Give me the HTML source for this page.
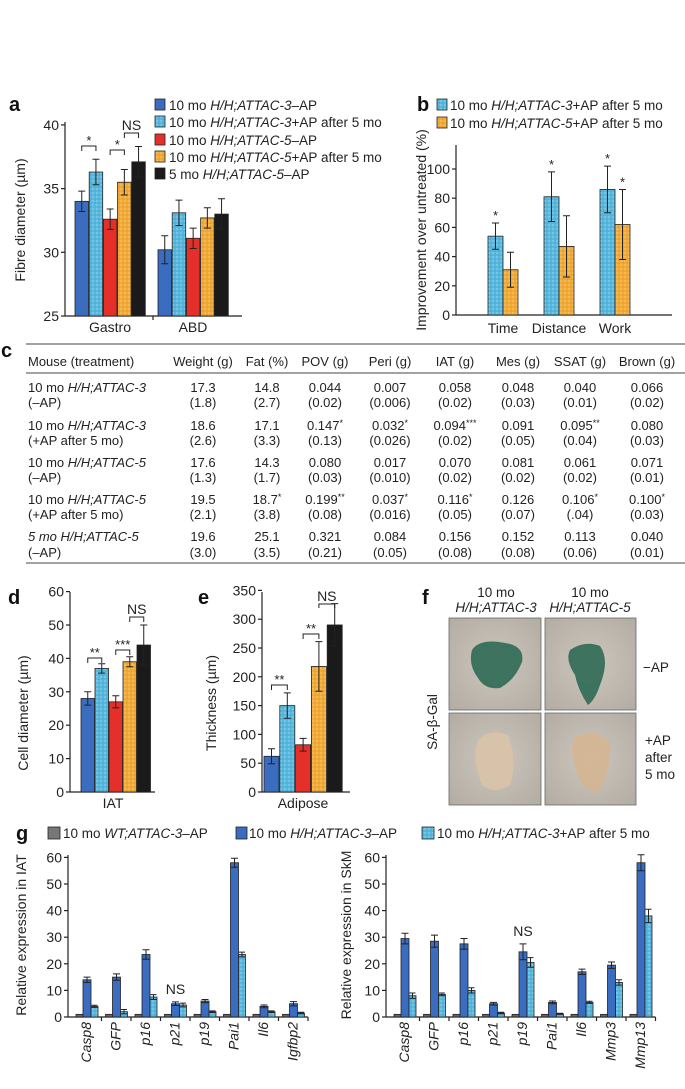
<!DOCTYPE html>
<html><head><meta charset="utf-8"><style>
html,body{margin:0;padding:0;background:#fff;}
svg{display:block;font-family:"Liberation Sans",sans-serif;}
.t{font-size:13px;fill:#222;}
.tk{font-size:14px;fill:#222;}
.lb{font-size:13.5px;fill:#222;}
.pl{font-size:20px;font-weight:bold;fill:#111;}
</style></head><body>
<svg id="fig" width="685" height="1089" viewBox="0 0 685 1089">
<defs>
<pattern id="pLb" width="4" height="4" patternUnits="userSpaceOnUse"><rect width="4" height="4" fill="#58b7dc"/><circle cx="1" cy="1" r="0.7" fill="#9fd9ee"/><circle cx="3" cy="3" r="0.6" fill="#3b9fc9"/></pattern>
<pattern id="pOr" width="4" height="4" patternUnits="userSpaceOnUse"><rect width="4" height="4" fill="#f1aa3a"/><circle cx="1" cy="1" r="0.7" fill="#f9cf72"/><circle cx="3" cy="3" r="0.6" fill="#d98e20"/></pattern>
<radialGradient id="bgImg" cx="50%" cy="50%" r="70%"><stop offset="0" stop-color="#ccc6bd"/><stop offset="1" stop-color="#b3aca3"/></radialGradient>
</defs>

<!-- panel labels -->
<text class="pl" x="9" y="111">a</text>
<text class="pl" x="417" y="111">b</text>
<text class="pl" x="1" y="357">c</text>
<text class="pl" x="8" y="604">d</text>
<text class="pl" x="198" y="604">e</text>
<text class="pl" x="422" y="604">f</text>
<text class="pl" x="16" y="840">g</text>

<!-- legend a -->
<g>
<rect x="155" y="99" width="10" height="11" fill="#3a6cc0" stroke="#222" stroke-width="0.8"/>
<text class="lb" x="169" y="110">10 mo <tspan font-style="italic">H/H;ATTAC-3</tspan>–AP</text>
<rect x="155" y="116" width="10" height="11" fill="url(#pLb)" stroke="#222" stroke-width="0.8"/>
<text class="lb" x="169" y="127">10 mo <tspan font-style="italic">H/H;ATTAC-3</tspan>+AP after 5 mo</text>
<rect x="155" y="134" width="10" height="11" fill="#e5302a" stroke="#222" stroke-width="0.8"/>
<text class="lb" x="169" y="145">10 mo <tspan font-style="italic">H/H;ATTAC-5</tspan>–AP</text>
<rect x="155" y="151" width="10" height="11" fill="url(#pOr)" stroke="#222" stroke-width="0.8"/>
<text class="lb" x="169" y="162">10 mo <tspan font-style="italic">H/H;ATTAC-5</tspan>+AP after 5 mo</text>
<rect x="155" y="168" width="10" height="11" fill="#1a1a1a" stroke="#222" stroke-width="0.8"/>
<text class="lb" x="169" y="179">5 mo <tspan font-style="italic">H/H;ATTAC-5</tspan>–AP</text>
</g>
<!-- legend b -->
<g>
<rect x="437" y="99" width="10" height="11" fill="url(#pLb)" stroke="#222" stroke-width="0.8"/>
<text class="lb" x="450" y="110">10 mo <tspan font-style="italic">H/H;ATTAC-3</tspan>+AP after 5 mo</text>
<rect x="437" y="117" width="10" height="11" fill="url(#pOr)" stroke="#222" stroke-width="0.8"/>
<text class="lb" x="450" y="128">10 mo <tspan font-style="italic">H/H;ATTAC-5</tspan>+AP after 5 mo</text>
</g>
<!-- legend g -->
<g>
<rect x="48" y="827" width="12" height="12" fill="#777" stroke="#222" stroke-width="0.8"/>
<text class="lb" x="63" y="838">10 mo <tspan font-style="italic">WT;ATTAC-3</tspan>–AP</text>
<rect x="236" y="827" width="11" height="12" fill="#3a6cc0" stroke="#222" stroke-width="0.8"/>
<text class="lb" x="249" y="838">10 mo <tspan font-style="italic">H/H;ATTAC-3</tspan>–AP</text>
<rect x="422" y="827" width="12" height="12" fill="url(#pLb)" stroke="#222" stroke-width="0.8"/>
<text class="lb" x="437" y="838">10 mo <tspan font-style="italic">H/H;ATTAC-3</tspan>+AP after 5 mo</text>
</g>

<!-- axis titles -->
<text class="tk" transform="translate(25,220) rotate(-90)" text-anchor="middle">Fibre diameter (µm)</text>
<text class="tk" transform="translate(426,230) rotate(-90)" text-anchor="middle">Improvement over untreated (%)</text>
<text class="tk" transform="translate(28,713) rotate(-90)" text-anchor="middle">Cell diameter (µm)</text>
<text class="tk" transform="translate(216,703) rotate(-90)" text-anchor="middle">Thickness (µm)</text>
<text class="tk" transform="translate(26,935) rotate(-90)" text-anchor="middle">Relative expression in IAT</text>
<text class="tk" transform="translate(351,935) rotate(-90)" text-anchor="middle">Relative expression in SkM</text>

<!-- table c -->
<g id="tbl">
<line x1="26" y1="344" x2="685" y2="344" stroke="#444" stroke-width="1"/>
<line x1="26" y1="373" x2="685" y2="373" stroke="#444" stroke-width="1"/>
<line x1="26" y1="563" x2="685" y2="563" stroke="#444" stroke-width="1"/>
</g>

<!-- panel f images -->
<g>
<text class="lb" x="496" y="597" text-anchor="middle">10 mo</text>
<text class="lb" x="590" y="597" text-anchor="middle">10 mo</text>
<text class="lb" x="496" y="612" text-anchor="middle" font-style="italic">H/H;ATTAC-3</text>
<text class="lb" x="590" y="612" text-anchor="middle" font-style="italic">H/H;ATTAC-5</text>
<rect x="449" y="618" width="92" height="92" fill="url(#bgImg)" stroke="#666" stroke-width="0.8"/>
<rect x="545" y="618" width="91" height="92" fill="url(#bgImg)" stroke="#666" stroke-width="0.8"/>
<rect x="449" y="713" width="92" height="92" fill="url(#bgImg)" stroke="#666" stroke-width="0.8"/>
<rect x="545" y="713" width="91" height="92" fill="url(#bgImg)" stroke="#666" stroke-width="0.8"/>
<path d="M472,650 Q480,638 505,643 Q525,646 522,662 Q515,680 500,688 Q485,690 478,678 Q468,665 472,650Z" fill="#2d6a55" opacity="0.9"/>
<path d="M570,650 Q585,640 600,646 Q610,660 600,685 Q595,700 588,705 Q578,690 575,675 Q565,660 570,650Z" fill="#2d6a55" opacity="0.9"/>
<path d="M478,740 Q490,728 508,735 Q518,760 510,785 Q495,795 482,785 Q472,760 478,740Z" fill="#d9c3a8" opacity="0.9"/>
<path d="M573,738 Q590,728 610,740 Q612,765 600,790 Q588,795 580,780 Q570,760 573,738Z" fill="#d4b592" opacity="0.9"/>
<text class="lb" transform="translate(437,722) rotate(-90)" text-anchor="middle">SA-β-Gal</text>
<text class="lb" x="643" y="672">−AP</text>
<text class="lb" x="645" y="745">+AP</text>
<text class="lb" x="645" y="762">after</text>
<text class="lb" x="645" y="779">5 mo</text>
</g>
<g id="charts"></g>
</svg>
<script>
// ---- panel a data ----
const aCats=['Gastro','ABD'];
const aS1=[34.0,30.2], aS2=[36.3,33.1], aS3=[32.6,31.1], aS4=[35.5,32.7], aS5=[37.1,33.0];
const aE1=[0.8,1.1], aE2=[1.0,1.0], aE3=[0.8,0.8], aE4=[1.0,0.8], aE5=[1.2,1.2];
const aTicks=[25,30,35,40];
// ---- panel b data ----
const bCats=['Time','Distance','Work'];
const bS1=[54,81,86], bS2=[31,47,62];
const bE1=[9,17,16], bE2=[12,21,24];
const bTicks=[0,20,40,60,80,100];
// ---- panel c table ----
const cHeaders=['Weight (g)','Fat (%)','POV (g)','Peri (g)','IAT (g)','Mes (g)','SSAT (g)','Brown (g)'];
const cRows=[
 ['17.3','14.8','0.044','0.007','0.058','0.048','0.040','0.066'],
 ['(1.8)','(2.7)','(0.02)','(0.006)','(0.02)','(0.03)','(0.01)','(0.02)'],
 ['18.6','17.1','0.147*','0.032*','0.094***','0.091','0.095**','0.080'],
 ['(2.6)','(3.3)','(0.13)','(0.026)','(0.02)','(0.05)','(0.04)','(0.03)'],
 ['17.6','14.3','0.080','0.017','0.070','0.081','0.061','0.071'],
 ['(1.3)','(1.7)','(0.03)','(0.010)','(0.02)','(0.02)','(0.02)','(0.01)'],
 ['19.5','18.7*','0.199**','0.037*','0.116*','0.126','0.106*','0.100*'],
 ['(2.1)','(3.8)','(0.08)','(0.016)','(0.05)','(0.07)','(.04)','(0.03)'],
 ['19.6','25.1','0.321','0.084','0.156','0.152','0.113','0.040'],
 ['(3.0)','(3.5)','(0.21)','(0.05)','(0.08)','(0.08)','(0.06)','(0.01)']];
// ---- panel d / e data ----
const dVals=[28,37,27,39,44], dErr=[2,1.4,1.8,1.5,6], dTicks=[0,10,20,30,40,50,60];
const eVals=[62,150,82,218,290], eErr=[13,22,11,43,37], eTicks=[0,50,100,150,200,250,300,350];
// ---- panel g data ----
const gCatsL=['Casp8','GFP','p16','p21','p19','Pai1','Il6','Igfbp2'];
const gGrayL=[1,1,1,1,1,1,1,1];
const gBlueL=[14,15,23.5,5,6,58,4,5], gBlueErrL=[1,1.2,1.8,0.7,0.6,1.7,0.5,0.8];
const gLbL=[4,2,7.5,4.5,2,23.5,2,1.5], gLbErrL=[0.4,0.8,0.9,0.7,0.3,0.9,0.3,0.3];
const gCatsR=['Casp8','GFP','p16','p21','p19','Pai1','Il6','Mmp3','Mmp13'];
const gGrayR=[1,1,1,1,1,1,1,1,1];
const gBlueR=[29.5,28.5,27.5,5,24.5,5.5,17,19.5,58], gBlueErrR=[2,2.3,2,0.5,3,0.5,1,1.2,3];
const gLbR=[8,8.5,10,1.5,20.5,1.2,5.5,13,38], gLbErrR=[1,0.5,1,0.3,1.8,0.2,0.4,1,2.5];
const gTicks=[0,10,20,30,40,50,60];

const NS='http://www.w3.org/2000/svg';
const root=document.getElementById('charts');
function mk(tag,attrs,parent){const e=document.createElementNS(NS,tag);for(const k in attrs)e.setAttribute(k,attrs[k]);(parent||root).appendChild(e);return e;}
function bar(x,w,y0,y1,fill,name){
  const r=mk('rect',{x:x,y:Math.min(y0,y1),width:w,height:Math.abs(y0-y1),fill:fill,stroke:'#222','stroke-width':0.8});
  
  
  return r;
}
function err(cx,yt,yb,cap){
  const p=mk('path',{d:`M${cx},${yt}V${yb}M${cx-cap},${yt}H${cx+cap}M${cx-cap},${yb}H${cx+cap}`,stroke:'#222','stroke-width':1,fill:'none'});
  
  
}
function txt(x,y,s,cls,anchor,extra){const t=mk('text',Object.assign({x:x,y:y,class:cls,'text-anchor':anchor||'start'},extra||{}));t.textContent=s;return t;}
function yAxis(x,yTop,yBot,ticks,yf,name){
  const l=mk('line',{x1:x,y1:yTop,x2:x,y2:yBot,stroke:'#222','stroke-width':1.2});
  
  
  ticks.forEach(v=>{const y=yf(v);mk('line',{x1:x-4,y1:y,x2:x,y2:y,stroke:'#222','stroke-width':1.2});
    const t=txt(x-6,y+5,String(v),'tk','end');
    
    });
}
function xAxis(x1,x2,y,name){const l=mk('line',{x1:x1,y1:y,x2:x2,y2:y,stroke:'#222','stroke-width':1.2});
  
  }
function bracket(x1,x2,y,label,h){
  const p=mk('path',{d:`M${x1},${y+h}V${y}H${x2}V${y+h}`,stroke:'#222','stroke-width':1,fill:'none'});
  
  
  const t=txt((x1+x2)/2,label==='NS'?y-3:y-1,label,label==='NS'?'tk':'t','middle');
  
  
}
const cols5=['#3a6cc0','url(#pLb)','#e5302a','url(#pOr)','#1a1a1a'];

// ---- panel a ----
const ay=v=>316-(v-25)*12.74;
yAxis(65,122,316,aTicks,ay,'a-y-axis');
xAxis(65,242,316,'a-x-axis');
mk('line',{x1:153,y1:316,x2:153,y2:320,stroke:'#222','stroke-width':1.2});
const aS=[aS1,aS2,aS3,aS4,aS5], aE=[aE1,aE2,aE3,aE4,aE5];
const aBx=(i,j)=>75+i*83+j*14.2;
aCats.forEach((c,i)=>{
  aS.forEach((s,j)=>{const x=aBx(i,j);bar(x,13.5,ay(25),ay(s[i]),cols5[j],'bar-a-'+c.toLowerCase()+'-'+(j+1));
    err(x+6.75,ay(s[i]+aE[j][i]),ay(s[i]-aE[j][i]),3.5);});
  const t=txt(aBx(i,0)+35,332,c,'tk','middle');
  
  
});
bracket(aBx(0,0)+6.75,aBx(0,1)+6.75,146,'*',5);
bracket(aBx(0,2)+6.75,aBx(0,3)+6.75,150,'*',5);
bracket(aBx(0,3)+6.75,aBx(0,4)+6.75,133,'NS',5);

// ---- panel b ----
const by=v=>315-v*1.46;
yAxis(456,145,315,bTicks,by,'b-y-axis');
xAxis(456,672,315,'b-x-axis');
bCats.forEach((c,i)=>{
  const x=488+i*56;
  bar(x,15,by(0),by(bS1[i]),'url(#pLb)','bar-b-'+c.toLowerCase()+'-attac3');
  bar(x+15,15,by(0),by(bS2[i]),'url(#pOr)','bar-b-'+c.toLowerCase()+'-attac5');
  err(x+7.5,by(bS1[i]+bE1[i]),by(bS1[i]-bE1[i]),3.5);
  err(x+22.5,by(bS2[i]+bE2[i]),by(bS2[i]-bE2[i]),3.5);
  txt(x+7.5,by(bS1[i]+bE1[i])-3,'*','t','middle');
  const t=txt(x+15,333,c,'tk','middle');
  
  
});
txt(488+2*56+22.5,by(bS2[2]+bE2[2])-3,'*','t','middle');

// ---- table c ----
const tbl=document.getElementById('tbl');
const colX=[203,267,325,390,455,518,580,647];
const rowY=[392,407,430,445,467,482,504,519,541,557];
const names=[['10 mo ','H/H;ATTAC-3'],['(–AP)'],['10 mo ','H/H;ATTAC-3'],['(+AP after 5 mo)'],['10 mo ','H/H;ATTAC-5'],['(–AP)'],['10 mo ','H/H;ATTAC-5'],['(+AP after 5 mo)'],['','5 mo H/H;ATTAC-5'],['(–AP)']];
const hh=mk('text',{x:28,y:366,class:'t'},tbl);hh.textContent='Mouse (treatment)';
cHeaders.forEach((h,i)=>{const t=mk('text',{x:colX[i],y:366,class:'t','text-anchor':'middle'},tbl);t.textContent=h;
  
  });
cRows.forEach((r,ri)=>{
  const n=mk('text',{x:28,y:rowY[ri],class:'t'},tbl);
  n.appendChild(document.createTextNode(names[ri][0]));
  if(names[ri][1]){const s=mk('tspan',{'font-style':'italic'},n);s.textContent=names[ri][1];}
  r.forEach((v,ci)=>{const t=mk('text',{x:colX[ci],y:rowY[ri],class:'t','text-anchor':'middle'},tbl);
    const m=v.match(/^([^*]*)(\**)$/);t.textContent=m[1];
    if(m[2]){const s=mk('tspan',{'font-size':'9','dy':'-4'},t);s.textContent=m[2];}
    
    });
});

// ---- panel d ----
const dy=v=>792-v*3.34;
yAxis(70,592,792,dTicks,dy,'d-y-axis');
xAxis(70,155,792,'d-x-axis');
const dx=j=>81+j*14;
dVals.forEach((v,j)=>{bar(dx(j),13.5,dy(0),dy(v),cols5[j],'bar-d-'+(j+1));err(dx(j)+6.75,dy(v+dErr[j]),dy(v-dErr[j]),3.5);});
txt(113,808,'IAT','tk','middle');
bracket(dx(0)+6.75,dx(1)+6.75,658,'**',5);
bracket(dx(2)+6.75,dx(3)+6.75,650,'***',5);
bracket(dx(3)+6.75,dx(4)+6.75,617,'NS',5);

// ---- panel e ----
const ey=v=>792-v*0.576;
yAxis(262,592,792,eTicks,ey,'e-y-axis');
xAxis(262,350,792,'e-x-axis');
const ex=j=>264+j*15.8;
eVals.forEach((v,j)=>{bar(ex(j),15,ey(0),ey(v),cols5[j],'bar-e-'+(j+1));err(ex(j)+7.5,ey(v+eErr[j]),ey(v-eErr[j]),3.5);});
txt(303,808,'Adipose','tk','middle');
bracket(ex(0)+7.5,ex(1)+7.5,685,'**',5);
bracket(ex(2)+7.5,ex(3)+7.5,634,'**',5);
bracket(ex(3)+7.5,ex(4)+7.5,604,'NS',4);

// ---- panel g ----
const gy=v=>1017-v*2.66;
function gChart(ax,cats,gray,blue,bErr,lb,lErr,side){
  yAxis(ax,855,1017,gTicks,gy,'g-'+side+'-y-axis');
  xAxis(ax,ax+4+cats.length*29.5,1017,'g-'+side+'-x-axis');
  cats.forEach((c,i)=>{
    const x0=ax+4+i*29.5;
    mk('line',{x1:x0+29.5,y1:1017,x2:x0+29.5,y2:1021,stroke:'#222','stroke-width':1.2});
    bar(x0+4,7,gy(0),gy(gray[i]),'#666','bar-g-'+side+'-'+c.toLowerCase()+'-wt');
    bar(x0+11,8,gy(0),gy(blue[i]),'#3a6cc0','bar-g-'+side+'-'+c.toLowerCase()+'-hh');
    bar(x0+19,7,gy(0),gy(lb[i]),'url(#pLb)','bar-g-'+side+'-'+c.toLowerCase()+'-hh-ap');
    err(x0+15,gy(blue[i]+bErr[i]),gy(blue[i]-bErr[i]),3.5);
    err(x0+22.5,gy(lb[i]+lErr[i]),gy(lb[i]-lErr[i]),3);
    const t=mk('text',{x:0,y:0,class:'tk','text-anchor':'end','font-style':'italic',transform:`translate(${x0+19},1022) rotate(-90)`});
    t.textContent=c;
    
    
  });
}
gChart(68,gCatsL,gGrayL,gBlueL,gBlueErrL,gLbL,gLbErrL,'iat');
gChart(386,gCatsR,gGrayR,gBlueR,gBlueErrR,gLbR,gLbErrR,'skm');
txt(68+4+3*29.5+15,994,'NS','tk','middle');
txt(386+4+4*29.5+15,936,'NS','tk','middle');
</script>
</body></html>
